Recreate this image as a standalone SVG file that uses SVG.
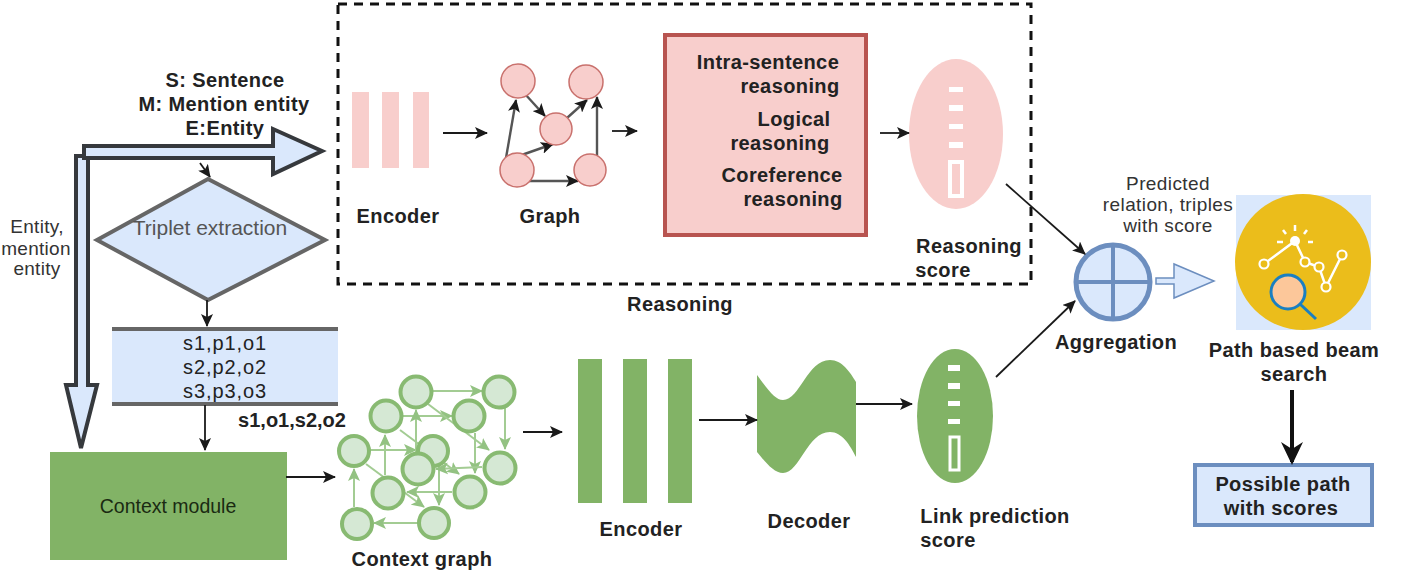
<svg xmlns="http://www.w3.org/2000/svg" width="1404" height="588" viewBox="0 0 1404 588">
<style>
text{font-family:"Liberation Sans",Arial,sans-serif;text-anchor:middle;fill:#222}
.b{font-size:20px;font-weight:bold;letter-spacing:.4px}
.s{font-size:19px;letter-spacing:.3px;fill:#333}
.t{font-size:19px;letter-spacing:.4px;fill:#333}
.b2{font-size:20px;letter-spacing:.9px;fill:#222}
.conn{fill:none;stroke:#1a1a1a;stroke-width:1.8;marker-end:url(#a)}
.gray{fill:none;stroke:#555;stroke-width:2.4;marker-end:url(#a)}
.g{fill:none;stroke:#a3cc93;stroke-width:2;marker-end:url(#ag)}
.pn{fill:#f8cecc;stroke:#c9716d;stroke-width:1.5}
.gn{fill:#d5e8d4;stroke:#88ba72;stroke-width:4}
.pb{fill:#f8cecc}.gb{fill:#82b366}
.w{fill:#fff}
.ic{fill:#ebbd1b;stroke:#fff;stroke-width:2.2}
</style>
<defs>
<marker id="a" markerUnits="userSpaceOnUse" markerWidth="14" markerHeight="12" refX="12" refY="6" orient="auto"><path d="M0,0L13,6L0,12L3,6Z" fill="#1a1a1a"/></marker>
<marker id="ag" markerUnits="userSpaceOnUse" markerWidth="14" markerHeight="12" refX="12" refY="6" orient="auto"><path d="M0,0L13,6L0,12L3,6Z" fill="#93c282"/></marker>
</defs>

<g id="reasoning-box"><rect x="338" y="4" width="693" height="280" fill="none" stroke="#111" stroke-width="3" stroke-dasharray="9 7"/></g>
<g id="reasoning-label"><text class="b" x="680" y="311">Reasoning</text></g>

<g id="legend"><text class="b" x="225" y="87">S: Sentence</text><text class="b" x="224" y="111">M: Mention entity</text><text class="b" x="225" y="135">E:Entity</text></g>
<g id="entity-label"><text class="s" x="37" y="233">Entity,</text><text class="s" x="36" y="255">mention</text><text class="s" x="37" y="275">entity</text></g>

<g id="arrow-entity"><path d="M76,156H88V385H97L81,448L66,385H76Z" fill="#dae8fc" stroke="#36393d" stroke-width="4"/></g>
<g id="arrow-sentence"><path d="M84,158V146H273V129L322,151L273,174V158Z" fill="#dae8fc" stroke="#36393d" stroke-width="4"/></g>

<g id="triplet-extraction"><path d="M208,179L325,240L208,300L97,240Z" fill="#dae8fc" stroke="#666" stroke-width="4"/><text x="210" y="235" style="font-size:21px;fill:#555">Triplet extraction</text></g>

<g id="triples"><rect x="112" y="329" width="226" height="75" fill="#dae8fc"/><path d="M112,329H338M112,404H338" stroke="#666" stroke-width="4"/><text class="b2" x="225" y="350">s1,p1,o1</text><text class="b2" x="225" y="374">s2,p2,o2</text><text class="b2" x="225" y="398">s3,p3,o3</text></g>
<g id="triples-label"><text class="b" x="292" y="427" style="letter-spacing:0">s1,o1,s2,o2</text></g>

<g id="context-module"><rect x="50" y="452" width="237" height="108" fill="#82b366"/><text x="168" y="513" style="font-size:19.5px;fill:#1a2a12">Context module</text></g>

<g id="reasoning-encoder"><rect class="pb" x="352" y="92" width="17" height="76"/><rect class="pb" x="382" y="92" width="17" height="76"/><rect class="pb" x="413" y="92" width="16" height="76"/><text class="b" x="398" y="223">Encoder</text></g>

<g id="reasoning-graph">
<path class="gray" d="M506,158L516,100"/><path class="gray" d="M525,94L545,116"/><path class="gray" d="M516,157L553,144"/><path class="gray" d="M567,118L587,100"/><path class="gray" d="M597,156V97"/><path class="gray" d="M528,181H578"/>
<circle class="pn" cx="518" cy="81" r="17"/><circle class="pn" cx="586" cy="82" r="17"/><circle class="pn" cx="556" cy="129" r="16"/><circle class="pn" cx="517" cy="170" r="17"/><circle class="pn" cx="590" cy="170" r="16"/>
<text class="b" x="550" y="223">Graph</text></g>

<g id="reasoning-types"><rect x="665" y="35" width="201" height="200" fill="#f8cecc" stroke="#b85450" stroke-width="4"/>
<text class="b" x="768" y="69">Intra-sentence</text><text class="b" x="790" y="93">reasoning</text><text class="b" x="794" y="126">Logical</text><text class="b" x="780" y="150">reasoning</text><text class="b" x="782" y="182">Coreference</text><text class="b" x="793" y="206">reasoning</text></g>

<g id="reasoning-score"><ellipse class="pb" cx="956" cy="134" rx="47" ry="75"/><rect class="w" x="949" y="87" width="14" height="5"/><rect class="w" x="949" y="105" width="14" height="6"/><rect class="w" x="949" y="124" width="14" height="5"/><rect class="w" x="949" y="142" width="14" height="6"/><rect x="950" y="162" width="12" height="34" fill="none" stroke="#fff" stroke-width="4"/><text class="b" x="969" y="253">Reasoning</text><text class="b" x="943" y="277">score</text></g>

<g id="context-graph">
<path class="g" d="M430,391H482"/><path class="g" d="M403,416H452"/><path class="g" d="M428,404L489,450"/><path class="g" d="M505,408V449"/><path class="g" d="M475,433V473"/><path class="g" d="M400,430L459,474"/><path class="g" d="M370,450H416"/><path class="g" d="M385,475V435"/><path class="g" d="M416,453V410"/><path class="g" d="M366,464L424,507"/><path class="g" d="M452,492H407"/><path class="g" d="M354,507V469"/><path class="g" d="M418,523H374"/><path class="g" d="M439,462V505"/><path class="g" d="M482,467L436,469"/>
<circle class="gn" cx="416" cy="392" r="15.5"/><circle class="gn" cx="499" cy="392" r="15.5"/><circle class="gn" cx="386" cy="416" r="15.5"/><circle class="gn" cx="469" cy="416" r="15.5"/><circle class="gn" cx="354" cy="451" r="15"/><circle class="gn" cx="433" cy="451" r="15"/><circle class="gn" cx="418" cy="469" r="15.5"/><circle class="gn" cx="500" cy="468" r="15.5"/><circle class="gn" cx="388" cy="493" r="15.5"/><circle class="gn" cx="470" cy="492" r="15.5"/><circle class="gn" cx="357" cy="524" r="15"/><circle class="gn" cx="434" cy="523" r="15"/>
<text class="b" x="422" y="566">Context graph</text></g>

<g id="context-encoder"><rect class="gb" x="578" y="359" width="24" height="144"/><rect class="gb" x="623" y="359" width="24" height="144"/><rect class="gb" x="668" y="359" width="24" height="144"/><text class="b" x="641" y="536">Encoder</text></g>

<g id="decoder"><path class="gb" d="M757,375C770,393 776,400 783,400C800,400 807,360 830,360C842,360 850,372 856,382V457C850,445 842,432 830,432C807,432 800,473 783,473C774,473 766,463 757,452Z"/><text class="b" x="809" y="528">Decoder</text></g>

<g id="link-score"><ellipse class="gb" cx="955" cy="416" rx="38" ry="67"/><rect class="w" x="948" y="365" width="12" height="6"/><rect class="w" x="948" y="383" width="12" height="6"/><rect class="w" x="948" y="401" width="12" height="5"/><rect class="w" x="948" y="419" width="12" height="5"/><rect x="950" y="437" width="9" height="33" fill="none" stroke="#fff" stroke-width="3"/><text class="b" x="995" y="523">Link prediction</text><text class="b" x="948" y="547">score</text></g>

<g id="aggregation"><circle cx="1113" cy="282" r="37" fill="#dae8fc" stroke="#6c8ebf" stroke-width="5"/><path d="M1076,282H1150M1113,245V319" stroke="#6c8ebf" stroke-width="4"/><text class="b" x="1116" y="349">Aggregation</text></g>

<g id="aggregation-output"><path d="M1156,278H1174V264L1214,281L1174,298V284H1156Z" fill="#dae8fc" stroke="#6c8ebf" stroke-width="1.5"/></g>
<g id="output-label"><text class="t" x="1168" y="190">Predicted</text><text class="t" x="1168" y="211">relation, triples</text><text class="t" x="1168" y="232">with score</text></g>

<g id="beam-search"><rect x="1236" y="195" width="135" height="135" fill="#dae8fc"/><circle cx="1303" cy="262" r="68" fill="#ebbd1b"/>
<polyline points="1264,264 1295,241 1305,262 1319,267 1326,287 1342,255" fill="none" stroke="#fff" stroke-width="2.5"/>
<circle class="ic" cx="1264" cy="264" r="4.5"/><circle cx="1295" cy="241" r="5" fill="#fff"/><circle class="ic" cx="1305" cy="262" r="4.5"/><circle class="ic" cx="1319" cy="267" r="4.5"/><circle class="ic" cx="1326" cy="287" r="4.5"/><circle class="ic" cx="1342" cy="255" r="4.5"/>
<path d="M1295,225V231M1283,230L1286,234M1307,230L1304,234M1277,242H1283M1308,242H1313" stroke="#fff" stroke-width="2.5" fill="none"/>
<circle cx="1288" cy="292" r="17" fill="#fcc79a" stroke="#1a7fc1" stroke-width="3"/><path d="M1300,304L1316,319" stroke="#1a7fc1" stroke-width="3"/>
<text class="b" x="1294" y="357">Path based beam</text><text class="b" x="1294" y="381">search</text></g>

<g id="possible-path"><rect x="1195" y="465" width="177" height="60" fill="#dae8fc" stroke="#6c8ebf" stroke-width="4"/><text class="b" x="1283" y="491">Possible path</text><text class="b" x="1281" y="515">with scores</text></g>

<g id="connectors">
<path class="conn" d="M200,163L210,177"/><path class="conn" d="M207,300V326"/><path class="conn" d="M205,405V450"/>
<path class="conn" d="M443,133H487"/><path class="conn" d="M612,131H637"/><path class="conn" d="M880,133H909"/>
<path class="conn" d="M1006,184L1085,254"/><path class="conn" d="M996,377L1075,301"/>
<path class="conn" d="M286,477H335"/><path class="conn" d="M523,432H562"/><path class="conn" d="M699,420H757"/><path class="conn" d="M856,404H912"/>
<path d="M1292,390V462" fill="none" stroke="#111" stroke-width="4"/><path d="M1281,442L1292,465L1303,442L1292,449Z" fill="#111"/>
</g>
</svg>
